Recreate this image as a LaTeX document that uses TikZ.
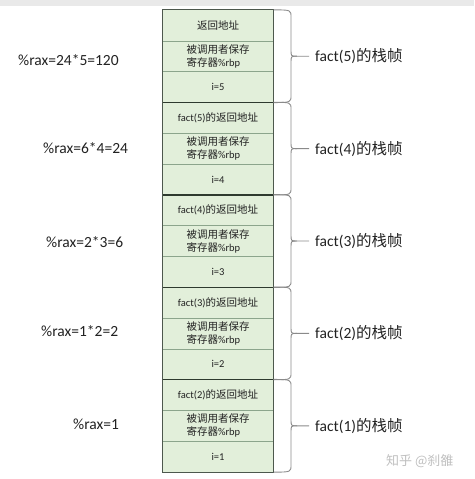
\documentclass[tikz,border=0pt]{standalone}
\usepackage{fontspec}
\setmainfont{Carlito}
\newfontfamily\cjk{Noto Sans CJK SC}
\definecolor{cellgreen}{HTML}{E2EFDA}
\definecolor{rowgray}{HTML}{8CA58C}
\definecolor{framedark}{HTML}{2E3A2E}
\definecolor{bracegray}{HTML}{8A8A8A}
\definecolor{topbar}{HTML}{E9E9E9}
\definecolor{txt}{HTML}{222222}
\newcommand\frameblock[4]{%
  \node[cell] (r#1a) at (218,#2+15.4) {#3};
  \node[cell,align=left] (r#1b) at (218,#2+46.2) {{\cjk 被调用者保存}\\{\cjk 寄存器}\%rbp};
  \node[cell] (r#1c) at (218,#2+77) {i=#4};
}
\begin{document}
\begin{tikzpicture}[x=1pt,y=-1pt,
  cell/.style={minimum width=111pt,minimum height=30.8pt,inner sep=0pt,fill=cellgreen,
    align=center,text=txt,font=\fontsize{10.5}{13}\selectfont},
  rowline/.style={draw=rowgray,line width=0.8pt},
  frameline/.style={draw=framedark,line width=1.2pt},
  outerline/.style={draw=framedark!85,line width=1pt},
  bracel/.style={draw=bracegray,line width=0.9pt},
  biglab/.style={inner sep=0pt,anchor=west,text=txt,font=\fontsize{15.5}{18}\selectfont},
  wmark/.style={inner sep=0pt,text=black!25,font=\fontsize{13}{15}\selectfont\cjk}]
\useasboundingbox (0,0) rectangle (474,479);
\fill[topbar] (0,0) rectangle (474,6);
% cells
\frameblock{0}{10}{{\cjk 返回地址}}{5}
\frameblock{1}{102.4}{fact(5){\cjk 的返回地址}}{4}
\frameblock{2}{194.8}{fact(4){\cjk 的返回地址}}{3}
\frameblock{3}{287.2}{fact(3){\cjk 的返回地址}}{2}
\frameblock{4}{379.6}{fact(2){\cjk 的返回地址}}{1}
% lines
\foreach \k in {0,...,4}{
  \draw[rowline] (r\k a.south west) -- (r\k a.south east);
  \draw[rowline] (r\k b.south west) -- (r\k b.south east);
}
\foreach \k in {0,...,3}{
  \draw[frameline] (r\k c.south west) -- (r\k c.south east);
}
\draw[outerline] (r0a.north west) rectangle (r4c.south east);
% right labels
\node[biglab] (L0) at (315,56.2) {fact(5){\cjk 的栈帧}};
\node[biglab] (L1) at (315,148.6) {fact(4){\cjk 的栈帧}};
\node[biglab] (L2) at (315,241) {fact(3){\cjk 的栈帧}};
\node[biglab] (L3) at (315,333.4) {fact(2){\cjk 的栈帧}};
\node[biglab] (L4) at (315,425.8) {fact(1){\cjk 的栈帧}};
% braces
\foreach \k/\T/\B in {0/10/102.4,1/102.4/194.8,2/194.8/287.2,3/287.2/379.6,4/379.6/472}{
  \pgfmathsetmacro\M{(\T+\B)/2}
  \draw[bracel] (r\k a.north east) .. controls (291,\T) .. (291,\T+7) -- (291,\M-6)
     .. controls (291,\M) .. (297,\M) -- ([xshift=-6pt]L\k.west);
  \draw[bracel] (r\k c.south east) .. controls (291,\B) .. (291,\B-7) -- (291,\M+6)
     .. controls (291,\M) .. (297,\M);
}
% left labels
\node[biglab] (A0) at (18,60) {\%rax=24*5=120};
\node[biglab] (A1) at (43,148) {\%rax=6*4=24};
\node[biglab] (A2) at (46,242) {\%rax=2*3=6};
\node[biglab] (A3) at (41,331) {\%rax=1*2=2};
\node[biglab] (A4) at (73,424) {\%rax=1};
% watermark
\node[wmark,anchor=west] (wm) at (386,461) {知乎 @刹雒};
\end{tikzpicture}
\end{document}
